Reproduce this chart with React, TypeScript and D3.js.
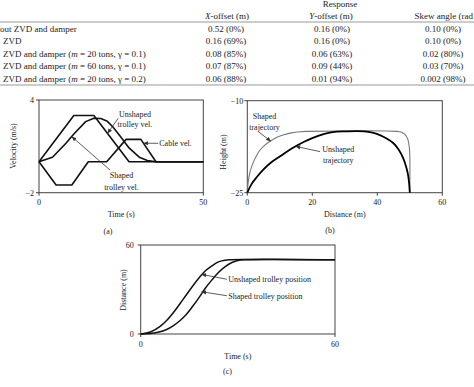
import React from "react";
import * as d3 from "d3";

// ---------- Table data ----------
const rowNames = ["out ZVD and damper", "ZVD", "ZVD and damper", "ZVD and damper", "ZVD and damper"];
const rowMass = ["", "", "20", "60", "20"];
const rowGamma = ["", "", "0.1", "0.1", "0.2"];
const xOffsetVals = ["0.52 (0%)", "0.16 (69%)", "0.08 (85%)", "0.07 (87%)", "0.06 (88%)"];
const yOffsetVals = ["0.16 (0%)", "0.16 (0%)", "0.06 (63%)", "0.09 (44%)", "0.01 (94%)"];
const skewVals = ["0.10 (0%)", "0.10 (0%)", "0.02 (80%)", "0.03 (70%)", "0.002 (98%)"];

// ---------- Chart (a): velocity vs time ----------
const unshapedTrolleyVel: [number, number][] = [[0, 0], [10.6, 3], [16.7, 3], [27.4, 0], [50, 0]];
const shapedTrolleyVel: [number, number][] = [
  [0, 0], [4.1, 0.29], [8.2, 1.2], [10.6, 1.8], [14.2, 2.6], [16.7, 2.82], [18.8, 2.8],
  [20.8, 2.62], [22.5, 2.25], [24.9, 1.6], [27.4, 0.9], [30.5, 0.3], [33, 0.08], [35.6, 0], [50, 0],
];
const cableVel: [number, number][] = [[0, 0], [5.2, -1.5], [10, -1.5], [15, 0], [20.6, 0], [26.5, 1.45], [31, 1.45], [35.6, 0], [50, 0]];

// ---------- Chart (b): height vs distance ----------
const shapedTrajectory: [number, number][] = [
  [0, -25], [0.3, -23.2], [0.8, -21.7], [1.8, -20.1], [3, -18.8], [4, -18], [5.5, -17.2], [7, -16.6],
  [9, -16], [11, -15.6], [13.5, -15.25], [16.2, -15.05], [19, -15], [46, -15], [47.5, -15.15],
  [48.5, -15.5], [49.4, -16.3], [49.85, -17.6], [50, -19], [50, -25],
];
const unshapedTrajectory: [number, number][] = [
  [0, -25], [1.3, -23.6], [3, -22.4], [5, -21.2], [7.5, -20], [10, -19.1], [12.5, -18.2], [15, -17.4],
  [17.5, -16.7], [20, -16.1], [22.5, -15.6], [25, -15.25], [27.5, -15.05], [30, -15], [36, -15],
  [38.5, -15.2], [40.8, -15.6], [43, -16.2], [44.9, -16.9], [46.5, -17.9], [48, -19.4], [49, -21],
  [49.5, -22.2], [49.8, -23.5], [50, -25],
];

// ---------- Chart (c): distance vs time ----------
const unshapedPosition: [number, number][] = [
  [0, 0], [3, 1.3], [6, 5.1], [8, 9.1], [10.6, 15.9], [13.2, 23.7], [16.7, 34.2], [18.3, 38.6],
  [20, 42.6], [22, 45.9], [23.5, 48.1], [25, 49.3], [27.4, 50], [60, 50],
];
const shapedPosition: [number, number][] = [
  [0, 0], [3, 0.3], [6, 1.5], [8, 3], [10, 5.5], [12, 8.8], [14, 13], [16, 18.5], [18, 24.5],
  [20, 31], [22, 36.5], [24, 41.5], [26, 45.3], [28, 48], [30, 49.5], [32, 50], [60, 50],
];

const FONT = "'Liberation Serif', 'Times New Roman', serif";
const INK = "#222";

type Ann = { lines: string[]; x: number; y: number; dy: number; anchor: string; from: [number, number]; to: [number, number] };
type Series = { data: [number, number][]; stroke: string; width: number };

type PanelProps = {
  id: string;
  box: [number, number, number, number]; // left, right, top, bottom
  xDomain: [number, number];
  yDomain: [number, number];
  xTicks: number[];
  yTicks: number[];
  xTitle: string;
  yTitle: string;
  yTitleX: number;
  yTitleY: number;
  xTitleY: number;
  caption: string;
  captionX: number;
  captionY: number;
  series: Series[];
  anns: Ann[];
  yLabelGap: number;
};

function Panel(p: PanelProps) {
  const [l, r, t, b] = p.box;
  const x = d3.scaleLinear().domain(p.xDomain).range([l, r]);
  const y = d3.scaleLinear().domain(p.yDomain).range([b, t]);
  const line = d3.line<[number, number]>().x((d) => x(d[0])).y((d) => y(d[1])).curve(d3.curveCatmullRom.alpha(0.5));
  const lineLin = d3.line<[number, number]>().x((d) => x(d[0])).y((d) => y(d[1]));
  return (
    <g>
      <rect x={l} y={t} width={r - l} height={b - t} fill="none" stroke="#444" strokeWidth={1} />
      {p.xTicks.map((v) => (
        <g key={"xt" + v}>
          <line x1={x(v)} x2={x(v)} y1={b} y2={b + 3} stroke="#444" />
          <text x={x(v)} y={b + 12.5} textAnchor="middle" fontSize={8} fill={INK} fontFamily={FONT}>{v}</text>
        </g>
      ))}
      {p.yTicks.map((v) => (
        <g key={"yt" + v}>
          <line x1={l - 3} x2={l} y1={y(v)} y2={y(v)} stroke="#444" />
          <text x={l - p.yLabelGap} y={y(v)} dy="0.35em" textAnchor="end" fontSize={8} fill={INK} fontFamily={FONT}>{v < 0 ? "\u2212" + Math.abs(v) : v}</text>
        </g>
      ))}
      {p.series.map((s, i) => (
        <path key={i} d={(p.id === "a" ? lineLin : line)(s.data) || ""} fill="none" stroke={s.stroke} strokeWidth={s.width} strokeLinejoin="round" />
      ))}
      {p.anns.map((a, i) => (
        <g key={"an" + i}>
          <line x1={x(a.from[0])} y1={y(a.from[1])} x2={x(a.to[0])} y2={y(a.to[1])} stroke="#333" strokeWidth={0.8} markerEnd="url(#arrow)" />
          {a.lines.map((ln, j) => (
            <text key={j} x={x(a.x)} y={y(a.y) + j * a.dy} textAnchor={a.anchor as any} fontSize={8} fill={INK} fontFamily={FONT}>{ln}</text>
          ))}
        </g>
      ))}
      <text x={(l + r) / 2} y={p.xTitleY} textAnchor="middle" fontSize={8} fill={INK} fontFamily={FONT}>{p.xTitle}</text>
      <text transform={`translate(${p.yTitleX},${p.yTitleY}) rotate(-90)`} textAnchor="middle" dy="0.35em" fontSize={8} fill={INK} fontFamily={FONT}>{p.yTitle}</text>
      <text x={p.captionX} y={p.captionY} textAnchor="middle" fontSize={8} fill={INK} fontFamily={FONT}>{p.caption}</text>
    </g>
  );
}

export default function App() {
  const rowY = [31.5, 44, 56.5, 69, 81.5];
  return (
    <svg width={474} height={387} style={{ position: "absolute", left: 0, top: 0, background: "#fff" }} fontFamily={FONT}>
      <defs>
        <marker id="arrow" viewBox="0 0 6 6" refX={5.5} refY={3} markerWidth={5} markerHeight={5} markerUnits="userSpaceOnUse" orient="auto">
          <path d="M0,0.5 L6,3 L0,5.5 z" fill="#333" />
        </marker>
      </defs>
      <rect width={474} height={387} fill="#fff" />
      {/* Table */}
      <g fontSize={9} fill={INK}>
        <text x={340} y={7} textAnchor="middle">Response</text>
        <text x={227} y={18.5} textAnchor="middle"><tspan fontStyle="italic">X</tspan>-offset (m)</text>
        <text x={331} y={18.5} textAnchor="middle"><tspan fontStyle="italic">Y</tspan>-offset (m)</text>
        <text x={473} y={18.5} textAnchor="end">Skew angle (rad</text>
        <line x1={0} x2={474} y1={22} y2={22} stroke="#999" strokeWidth={1} />
        {rowNames.map((n, i) => (
          <g key={i}>
            <text x={i === 0 ? 0 : 3} y={rowY[i]}>
              {n}
              {rowMass[i] ? (
                <>
                  {" ("}<tspan fontStyle="italic">m</tspan>{` = ${rowMass[i]} tons, \u03b3 = ${rowGamma[i]})`}
                </>
              ) : null}
            </text>
            <text x={226} y={rowY[i]} textAnchor="middle">{xOffsetVals[i]}</text>
            <text x={332} y={rowY[i]} textAnchor="middle">{yOffsetVals[i]}</text>
            <text x={443} y={rowY[i]} textAnchor="middle">{skewVals[i]}</text>
          </g>
        ))}
        <line x1={0} x2={474} y1={85} y2={85} stroke="#999" strokeWidth={1} />
      </g>

      <Panel
        id="a"
        box={[39, 203.3, 100, 192.7]}
        xDomain={[0, 50]}
        yDomain={[-2, 4]}
        xTicks={[0, 50]}
        yTicks={[-2, 4]}
        xTitle="Time (s)"
        xTitleY={216.5}
        yTitle="Velocity (m/s)"
        yTitleX={13}
        yTitleY={146}
        caption="(a)"
        captionX={108}
        captionY={233.5}
        yLabelGap={5}
        series={[
          { data: cableVel, stroke: "#111", width: 1.6 },
          { data: shapedTrolleyVel, stroke: "#111", width: 1.6 },
          { data: unshapedTrolleyVel, stroke: "#111", width: 1.6 },
        ]}
        anns={[
          { lines: ["Unshaped", "trolley vel."], x: 29.2, y: 2.9, dy: 10.3, anchor: "middle", from: [24.1, 2.82], to: [20.9, 1.85] },
          { lines: ["Cable vel."], x: 36.6, y: 1.0, dy: 0, anchor: "start", from: [36.3, 1.2], to: [31.9, 1.2] },
          { lines: ["Shaped", "trolley vel."], x: 25.1, y: -1.05, dy: 11.7, anchor: "middle", from: [21.6, -0.53], to: [10, 1.62] },
        ]}
      />

      <Panel
        id="b"
        box={[247.3, 442.3, 100.7, 192.7]}
        xDomain={[0, 60]}
        yDomain={[-25, -10]}
        xTicks={[0, 20, 40, 60]}
        yTicks={[-25, -10]}
        xTitle="Distance (m)"
        xTitleY={217}
        yTitle="Height (m)"
        yTitleX={223}
        yTitleY={152}
        caption="(b)"
        captionX={330}
        captionY={233}
        yLabelGap={4}
        series={[
          { data: shapedTrajectory, stroke: "#777", width: 1.1 },
          { data: unshapedTrajectory, stroke: "#000", width: 1.8 },
        ]}
        anns={[
          { lines: ["Shaped", "trajectory"], x: 5.3, y: -12.98, dy: 11.3, anchor: "middle", from: [3.4, -15.05], to: [7.2, -16.6] },
          { lines: ["Unshaped", "trajectory"], x: 28, y: -18.4, dy: 10.7, anchor: "middle", from: [22.4, -18.3], to: [14.9, -17.45] },
        ]}
      />

      <Panel
        id="c"
        box={[140.7, 335, 245, 334]}
        xDomain={[0, 60]}
        yDomain={[0, 60]}
        xTicks={[0, 60]}
        yTicks={[0, 60]}
        xTitle="Time (s)"
        xTitleY={359}
        yTitle="Distance (m)"
        yTitleX={122.7}
        yTitleY={290}
        caption="(c)"
        captionX={227.5}
        captionY={374}
        yLabelGap={7}
        series={[
          { data: unshapedPosition, stroke: "#111", width: 1.5 },
          { data: shapedPosition, stroke: "#111", width: 1.5 },
        ]}
        anns={[
          { lines: ["Unshaped trolley position"], x: 27.05, y: 34.9, dy: 0, anchor: "start", from: [26.6, 36.9], to: [18.8, 40.2] },
          { lines: ["Shaped trolley position"], x: 27.05, y: 23.8, dy: 0, anchor: "start", from: [26.6, 25.8], to: [18.8, 28.5] },
        ]}
      />
    </svg>
  );
}
